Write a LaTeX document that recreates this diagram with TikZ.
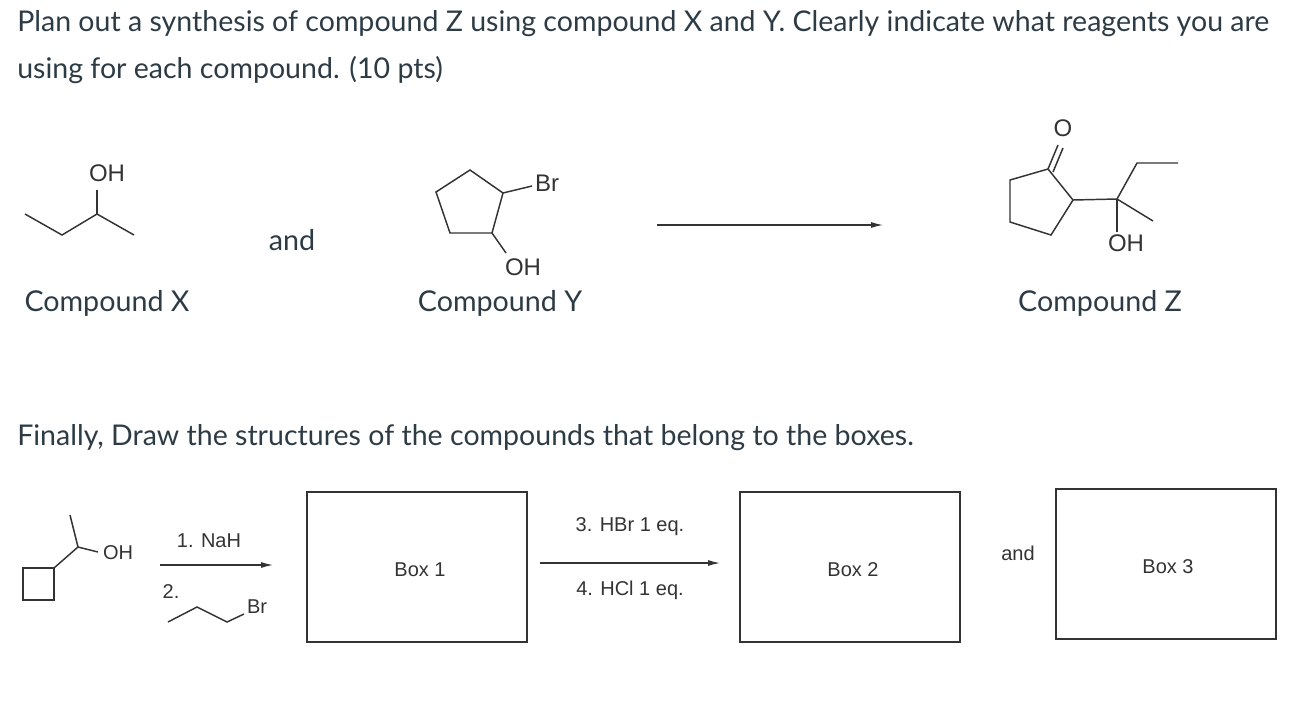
\documentclass[tikz,border=0pt]{standalone}
\usepackage{fontspec}
\setmainfont{Lato}
\newfontfamily\chemf{Liberation Sans}
\usetikzlibrary{arrows.meta}
\definecolor{ink}{HTML}{2D3B45}
\definecolor{bond}{HTML}{333333}
\begin{document}
\begin{tikzpicture}[x=0.75pt,y=-0.75pt,
  bnd/.style={draw=bond,line width=1.1pt},
  lbl/.style={inner sep=0pt,font=\chemf\fontsize{18}{20}\selectfont,text=bond},
  small/.style={inner sep=0pt,font=\chemf\fontsize{15}{17}\selectfont,text=bond},
  big/.style={inner sep=0pt,font=\fontsize{21.5}{24}\selectfont,text=ink},
  head/.style={inner sep=0pt,anchor=west,font=\fontsize{21.4}{25}\selectfont,text=ink},
  boxx/.style={draw=bond,line width=1.1pt},
  rxn/.style={draw=bond,line width=0.9pt,-{Latex[length=9pt,width=4.5pt]}}]
\useasboundingbox (0,0) rectangle (1316,719);
\node[head] (h1) at (17,24) {Plan out a synthesis of compound Z using compound X and Y. Clearly indicate what reagents you are};
\node[head] (h2) at (17,70) {using for each compound. (10 pts)};
\node[head] (h3) at (17,438) {Finally, Draw the structures of the compounds that belong to the boxes.};
% Compound X
\draw[bnd] (25,214) -- (62,235) -- (97,214) -- (134,235);
\draw[bnd] (97,214) -- (97,190);
\node[lbl] (xoh) at (107,173) {OH};
\node[big] (xl) at (107,303) {Compound X};
\node[big] (and1) at (292,240) {and};
% Compound Y
\draw[bnd] (470,170) -- (503,193) -- (492,233) -- (450,233) -- (436,192) -- cycle;
\draw[bnd] (503,193) -- (532,186);
\draw[bnd] (492,233) -- (506,253);
\node[lbl] (ybr) at (547,183) {Br};
\node[lbl] (yoh) at (523,267) {OH};
\node[big] (yl) at (500,303) {Compound Y};
\coordinate (a1) at (657,225);
\coordinate (a2) at (883,225);
\draw[rxn] (a1) -- (a2);
% Compound Z
\draw[bnd] (1048,169) -- (1010,180) -- (1010,222) -- (1051,235) -- (1073,200) -- cycle;
\draw[bnd] (1048,169) -- (1058,145);
\draw[bnd] (1053,172) -- (1063,148);
\node[lbl] (zo) at (1063,128) {O};
\draw[bnd] (1073,200) -- (1117,199) -- (1137,163) -- (1178,163);
\draw[bnd] (1117,199) -- (1153,221);
\draw[bnd] (1117,199) -- (1117,232);
\node[lbl] (zoh) at (1126,243) {OH};
\node[big] (zl) at (1100,303) {Compound Z};
% bottom starting material
\draw[bnd] (23,568) rectangle (54,600);
\draw[bnd] (54,568) -- (78,547) -- (70,515);
\draw[bnd] (78,547) -- (98,552);
\node[small] (boh) at (118,553) {OH};
\coordinate (b1) at (160,565);
\coordinate (b2) at (273,565);
\draw[rxn] (b1) -- (b2);
\node[small] (r1) at (209,541) {1. NaH};
\node[small] (r2) at (171,592) {2.};
\draw[bnd] (168,622) -- (197,607) -- (227,622) -- (244,614);
\node[small] (pbr) at (257,607) {Br};
% boxes
\node[boxx,minimum width=165pt,minimum height=112.5pt] (box1) at (417,567) {};
\node[small] at (420,570) {Box 1};
\coordinate (c1) at (540,563);
\coordinate (c2) at (720,563);
\draw[rxn] (c1) -- (c2);
\node[small] (r3) at (630,527) {3. HBr 1 eq.};
\node[small] (r4) at (630,590) {4. HCl 1 eq.};
\node[boxx,minimum width=165pt,minimum height=112.5pt] (box2) at (850,567) {};
\node[small] at (853,570) {Box 2};
\node[small] (and2) at (1018,553) {and};
\node[boxx,minimum width=165pt,minimum height=112.5pt] (box3) at (1166,564) {};
\node[small] at (1168,567) {Box 3};
\end{tikzpicture}
\end{document}
